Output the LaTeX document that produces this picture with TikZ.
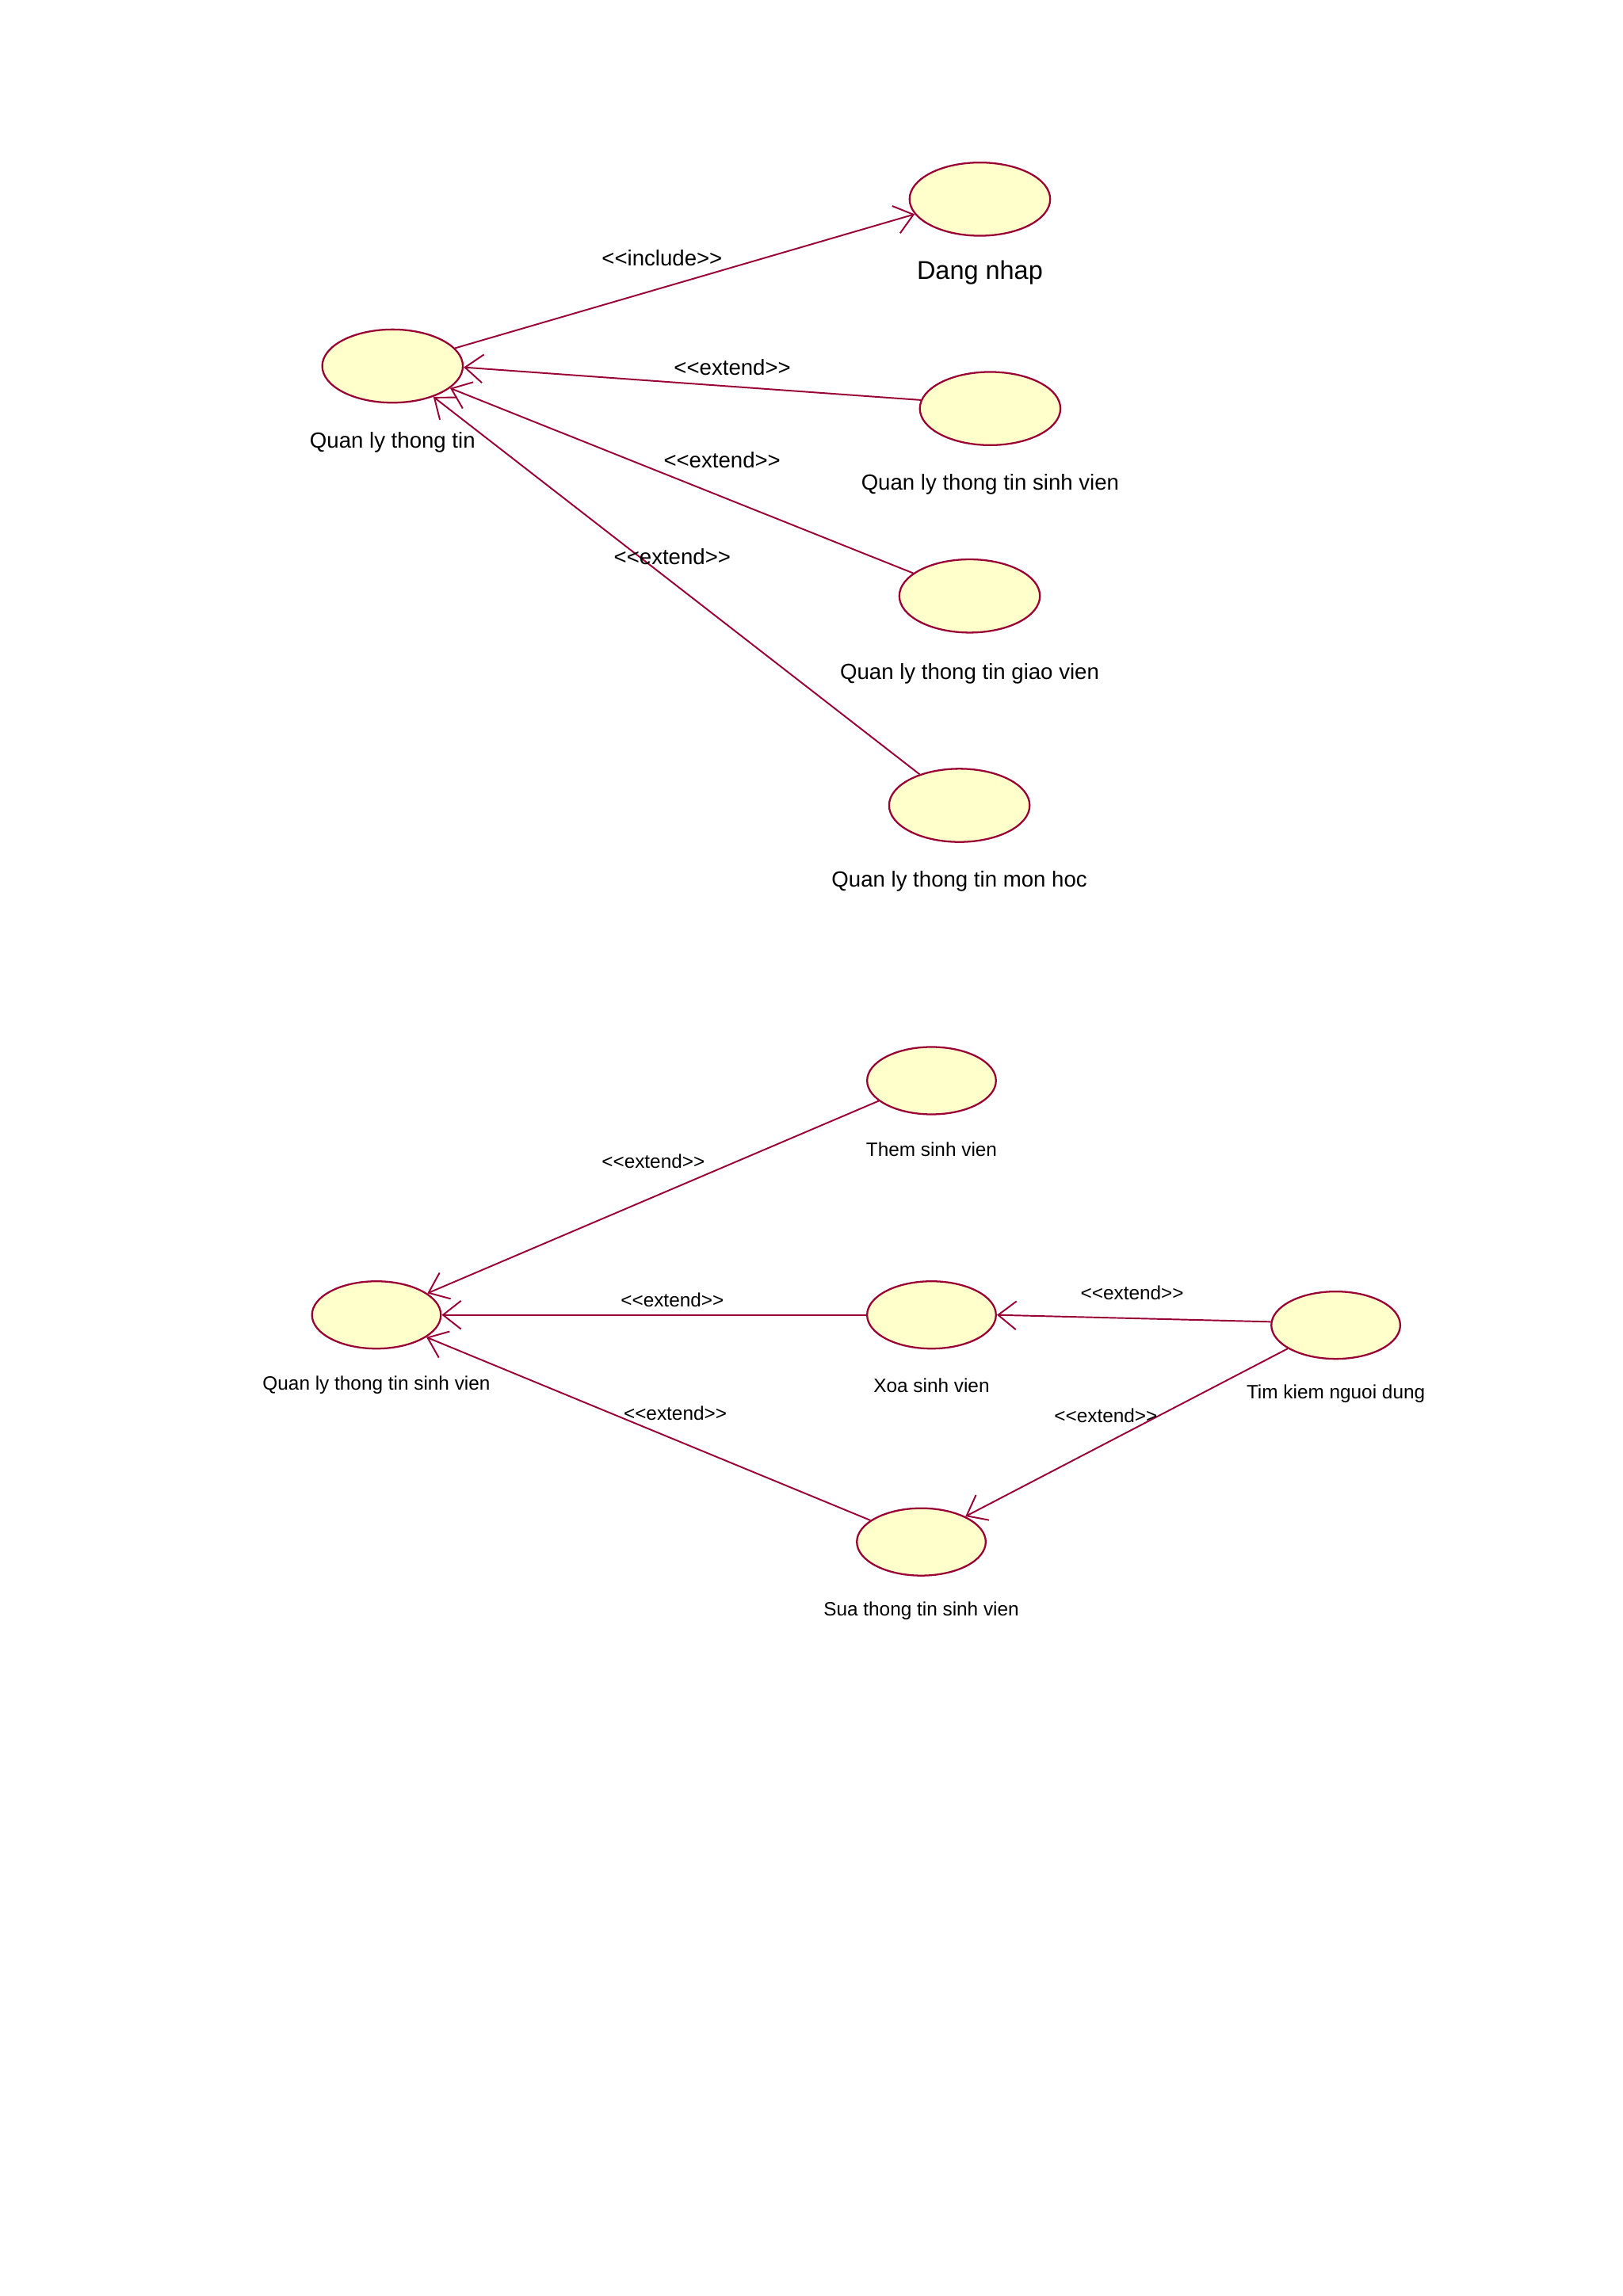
\documentclass[tikz,border=0pt]{standalone}
\usepackage{fontspec}
\setmainfont{Liberation Sans}[Ligatures=TeXOff]
\usetikzlibrary{shapes.geometric,arrows.meta}
\definecolor{ucline}{HTML}{990033}
\definecolor{ucfill}{HTML}{FFFFCC}

\tikzstyle{every node}=[font=\fontsize{8.5}{10}\selectfont, inner sep=1pt]
\tikzstyle{usecase}=[ellipse, draw=ucline, fill=ucfill, line width=0.7pt, minimum width=1.92cm, minimum height=1cm, inner sep=0pt]
\tikzstyle{smallcase}=[usecase, minimum width=1.76cm, minimum height=0.92cm]
\tikzstyle{rel}=[draw=ucline, line width=0.6pt, -{Straight Barb[length=7pt,width=11pt]}]
\tikzstyle{small}=[font=\fontsize{7.5}{9}\selectfont]

\begin{document}
\begin{tikzpicture}[x=0.02cm, y=-0.02cm]
    \useasboundingbox (0,0) rectangle (1108,1568);

    % quan ly thong tin
    \node [usecase] (qltt) at (268,250) {};
    \node [usecase] (login) at (669,136) {};
    \node [usecase] (qlsv) at (676,279) {};
    \node [usecase] (qlgv) at (662,407) {};
    \node [usecase] (qlmh) at (655,550) {};
    \node (qlttL) at (268,302) {Quan ly thong tin};
    \node [font=\fontsize{10}{12}\selectfont] (loginL) at (669,186) {Dang nhap};
    \node (qlsvL) at (676,331) {Quan ly thong tin sinh vien};
    \node (qlgvL) at (662,460) {Quan ly thong tin giao vien};
    \node (qlmhL) at (655,602) {Quan ly thong tin mon hoc};

    \draw [rel] (qltt.16.7) -- (login.193.8);
    \draw [rel] (qlsv.173.3) -- (qltt.359);
    \draw [rel] (qlgv.158) -- (qltt.339);
    \draw [rel] (qlmh.142) -- (qltt.323);
    \node (inc) at (452,176) {<<include>>};
    \node (ext1) at (500,251) {<<extend>>};
    \node (ext2) at (493,314) {<<extend>>};
    \node (ext3) at (459,380) {<<extend>>};

    % quan ly thong tin sinh vien
    \node [smallcase] (qsv) at (257,898) {};
    \node [smallcase] (them) at (636,738) {};
    \node [smallcase] (xoa) at (636,898) {};
    \node [smallcase] (tim) at (912,905) {};
    \node [smallcase] (sua) at (629,1053) {};
    \node [small] (qsvL) at (257,946) {Quan ly thong tin sinh vien};
    \node [small] (themL) at (636,785) {Them sinh vien};
    \node [small] (xoaL) at (636,946) {Xoa sinh vien};
    \node [small] (timL) at (912,952) {Tim kiem nguoi dung};
    \node [small] (suaL) at (629,1100) {Sua thong tin sinh vien};

    \draw [rel] (them.201.8) -- (qsv.23.8);
    \draw [rel] (xoa.west) -- (qsv.east);
    \draw [rel] (sua.157) -- (qsv.336.6);
    \draw [rel] (tim.177.5) -- (xoa.east);
    \draw [rel] (tim.206.6) -- (sua.30.3);
    \node [small] (ext4) at (446,793) {<<extend>>};
    \node [small] (ext5) at (459,888) {<<extend>>};
    \node [small] (ext6) at (461,965) {<<extend>>};
    \node [small] (ext7) at (773,883) {<<extend>>};
    \node [small] (ext8) at (755,967) {<<extend>>};
\end{tikzpicture}
\end{document}
